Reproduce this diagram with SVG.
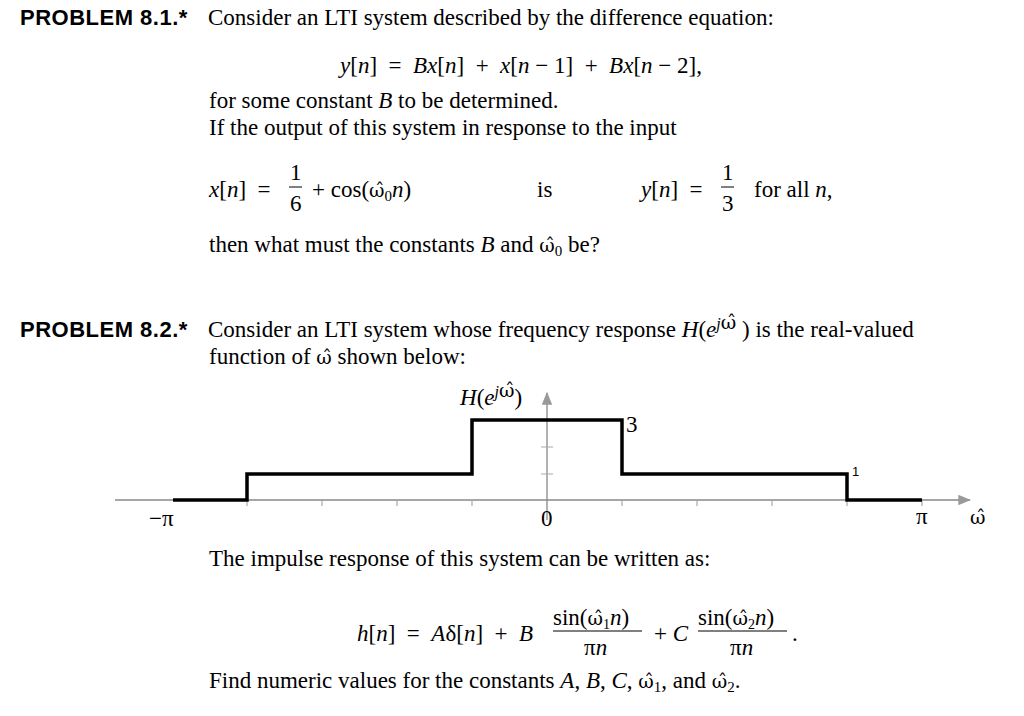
<svg xmlns="http://www.w3.org/2000/svg" width="1024" height="716" viewBox="0 0 1024 716">
<style>
text{font-family:"Liberation Serif","Times New Roman",serif;font-size:23px;fill:#000}
.h{font-family:"Liberation Sans",Arial,sans-serif;font-weight:bold;font-size:22px;letter-spacing:0.5px}
.i{font-style:italic}
.w{font-family:"DejaVu Serif",serif;font-size:19px}
.ax{stroke:#888;stroke-width:1.3;fill:none}
.tk{stroke:#aaa;stroke-width:1.2}
</style>
<defs><marker id="ar" markerWidth="10" markerHeight="8" refX="9" refY="4" orient="auto"><path d="M0,0L10,4L0,8Z" fill="#999"/></marker></defs>
<rect width="1024" height="716" fill="#fff"/>
<text x="20" y="25" class="h">PROBLEM  8.1.*</text>
<text x="208" y="25">Consider an LTI system described by the difference equation:</text>
<text x="340" y="73" xml:space="preserve"><tspan class="i">y</tspan>[<tspan class="i">n</tspan>]  =  <tspan class="i">Bx</tspan>[<tspan class="i">n</tspan>]  +  <tspan class="i">x</tspan>[<tspan class="i">n</tspan> − 1]  +  <tspan class="i">Bx</tspan>[<tspan class="i">n</tspan> − 2],</text>
<text x="209" y="108">for some constant <tspan class="i">B</tspan> to be determined.</text>
<text x="209" y="135">If the output of this system in response to the input</text>
<text x="209" y="197" xml:space="preserve"><tspan class="i">x</tspan>[<tspan class="i">n</tspan>]  =</text>
<text x="290" y="180" font-size="19">1</text><line x1="289" y1="187" x2="302" y2="187" stroke="#000"/><text x="290" y="211" font-size="19">6</text>
<text x="312" y="197">+ cos(<tspan class="w">ω̂</tspan><tspan font-size="15" dy="4">0</tspan><tspan class="i" dy="-4">n</tspan>)</text>
<text x="537" y="197">is</text>
<text x="641" y="197" xml:space="preserve"><tspan class="i">y</tspan>[<tspan class="i">n</tspan>]  =</text>
<text x="722" y="180" font-size="19">1</text><line x1="721" y1="187" x2="734" y2="187" stroke="#000"/><text x="722" y="211" font-size="19">3</text>
<text x="754" y="197">for all <tspan class="i">n</tspan>,</text>
<text x="209" y="252">then what must the constants <tspan class="i">B</tspan> and  <tspan class="w">ω̂</tspan><tspan font-size="15" dy="4">0</tspan><tspan dy="-4"> be?</tspan></text>
<text x="20" y="337" class="h">PROBLEM  8.2.*</text>
<text x="208" y="337">Consider an LTI system whose frequency response <tspan class="i">H</tspan>(<tspan class="i">e</tspan><tspan class="i" font-size="16" dy="-8">j</tspan><tspan class="w" font-size="14">ω̂</tspan><tspan dy="8"> ) is the real-valued</tspan></text>
<text x="209" y="364">function of <tspan class="w">ω̂</tspan>  shown below:</text>
<g id="plot">
<line class="ax" x1="115" y1="500" x2="970" y2="500" marker-end="url(#ar)"/>
<line class="ax" x1="547" y1="520" x2="547" y2="393" marker-end="url(#ar)"/>
<path class="tk" d="M247,500v6M322,500v6M397,500v6M472,500v6M622,500v6M697,500v6M772,500v6M847,500v6M922,500v6M541,474h12M541,447h12"/>
<path d="M173,500H247V474H472V420H622V474H847V500H922" fill="none" stroke="#000" stroke-width="3.5"/>
<text x="460" y="405"><tspan class="i">H</tspan>(<tspan class="i">e</tspan><tspan class="i" font-size="16" dy="-8">j</tspan><tspan class="w" font-size="14">ω̂</tspan><tspan dy="8">)</tspan></text>
<text x="626" y="432" font-size="20">3</text>
<text x="852" y="476" style="font-family:'Liberation Sans',sans-serif;font-size:13px">1</text>
<text x="149" y="526">−π</text>
<text x="541" y="526">0</text>
<text x="916" y="524">π</text>
<text x="970" y="524" class="w">ω̂</text>
</g>
<text x="209" y="566">The impulse response of this system can be written as:</text>
<text x="357" y="641" xml:space="preserve"><tspan class="i">h</tspan>[<tspan class="i">n</tspan>]  =  <tspan class="i">A</tspan>δ[<tspan class="i">n</tspan>]  +  <tspan class="i">B</tspan></text>
<text x="553" y="625">sin(<tspan class="w">ω̂</tspan><tspan font-size="14" dy="4">1</tspan><tspan class="i" dy="-4">n</tspan>)</text>
<line x1="553" y1="631" x2="642" y2="631" stroke="#000"/>
<text x="584" y="655">π<tspan class="i">n</tspan></text>
<text x="654" y="641">+ <tspan class="i">C</tspan></text>
<text x="698" y="625">sin(<tspan class="w">ω̂</tspan><tspan font-size="14" dy="4">2</tspan><tspan class="i" dy="-4">n</tspan>)</text>
<line x1="698" y1="631" x2="787" y2="631" stroke="#000"/>
<text x="730" y="655">π<tspan class="i">n</tspan></text>
<text x="792" y="641">.</text>
<text x="209" y="688">Find numeric values for the constants <tspan class="i">A</tspan>, <tspan class="i">B</tspan>, <tspan class="i">C</tspan>,  <tspan class="w">ω̂</tspan><tspan font-size="15" dy="4">1</tspan><tspan dy="-4">, and  </tspan><tspan class="w">ω̂</tspan><tspan font-size="15" dy="4">2</tspan><tspan dy="-4">.</tspan></text>
</svg>
